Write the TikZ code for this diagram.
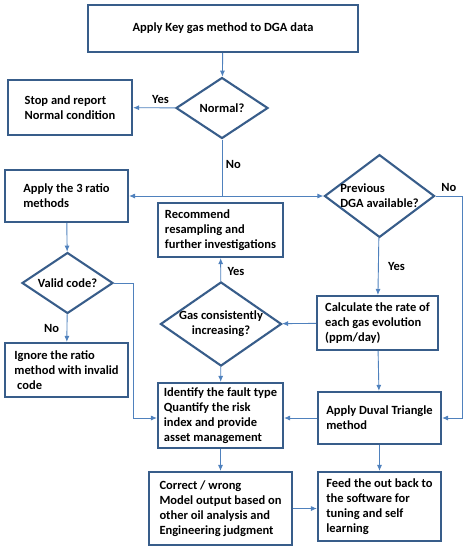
\documentclass[tikz,border=0pt]{standalone}
\usepackage{fontspec}
\setmainfont{Carlito}
\usetikzlibrary{shapes.geometric,arrows.meta,positioning}
\definecolor{boxblue}{RGB}{56,93,138}
\definecolor{arrowblue}{RGB}{79,129,189}

\begin{document}
\begin{tikzpicture}[x=1pt,y=1pt,
	stepbox/.style={rectangle,draw=boxblue,line width=2.1pt,fill=white,align=left,font=\bfseries\fontsize{12.5}{15}\selectfont,inner sep=1pt},
	decision/.style={diamond,draw=boxblue,line width=2.1pt,fill=white,align=center,font=\bfseries\fontsize{12.5}{15}\selectfont,inner sep=0pt},
	flow/.style={draw=arrowblue,line width=0.9pt,-{Latex[length=6pt,width=5pt]}},
	tag/.style={font=\bfseries\fontsize{12.5}{14}\selectfont}]
	\useasboundingbox (0,0) rectangle (465,-550);
	\node (keygas) [stepbox,align=center,minimum width=270,minimum height=47] at (223,-28.5) {Apply Key gas method to DGA data};
	\node (normal) [decision,aspect=1.5,minimum width=92,minimum height=61] at (222,-108) {Normal?};
	\node (stop) [stepbox,minimum width=124,minimum height=55] at (70,-107.5) {Stop and report\\Normal condition};
	\node (ratio) [stepbox,minimum width=123,minimum height=52] at (66.5,-196) {Apply the 3 ratio\\methods};
	\node (prevdga) [decision,aspect=1.33,align=left,minimum width=109,minimum height=82] at (379.5,-196) {Previous\\DGA available?};
	\node (resample) [stepbox,minimum width=125,minimum height=54] at (220.5,-230) {Recommend\\resampling and\\further investigations};
	\node (valid) [decision,aspect=1.5,minimum width=91,minimum height=61] at (67.5,-283) {Valid code?};
	\node (increase) [decision,aspect=1.44,minimum width=118,minimum height=82] at (221,-324) {Gas consistently\\increasing?};
	\node (rate) [stepbox,minimum width=121,minimum height=54] at (377.5,-323) {Calculate the rate of\\each gas evolution\\(ppm/day)};
	\node (ignore) [stepbox,minimum width=123,minimum height=54] at (66.5,-370) {Ignore the ratio\\method with invalid\\\ code};
	\node (fault) [stepbox,minimum width=125,minimum height=65] at (220.5,-415.5) {Identify the fault type\\Quantify the risk\\index and provide\\asset management};
	\node (duval) [stepbox,minimum width=123,minimum height=52] at (379.5,-418) {Apply Duval Triangle\\method};
	\node (model) [stepbox,minimum width=143,minimum height=73] at (220.5,-508.5) {Correct / wrong\\Model output based on\\other oil analysis and\\Engineering judgment};
	\node (feed) [stepbox,minimum width=123,minimum height=69] at (379.5,-506.5) {Feed the out back to\\the software for\\tuning and self\\learning};
	\coordinate (split) at (normal.south |- ratio.east);
	\coordinate (validturn) at (133,0);
	\coordinate (noturn) at (462,0);
	\draw[flow] (keygas) -- (normal);
	\draw[flow] (normal) -- (stop) node[tag,pos=0.35,above] {Yes};
	\draw[draw=arrowblue,line width=0.9pt] (normal) -- (split) node[tag,pos=0.45,right] {No};
	\draw[flow] (split) -- (ratio);
	\draw[flow] (split) -- (prevdga);
	\draw[flow] (prevdga.east) -- (prevdga.east -| noturn) node[tag,midway,above=1pt] {No} |- (duval.east);
	\draw[flow] (prevdga) -- (rate) node[tag,midway,right=6pt] {Yes};
	\draw[flow] (ratio) -- (valid);
	\draw[flow] (valid) -- (ignore) node[tag,midway,left=4pt] {No};
	\draw[flow] (valid.east) -- (valid.east -| validturn) |- (fault.west |- duval.west);
	\draw[flow] (rate) -- (increase);
	\draw[flow] (increase) -- (resample) node[tag,pos=0.4,right=3pt] {Yes};
	\draw[flow] (increase) -- (fault);
	\draw[flow] (rate) -- (duval);
	\draw[flow] (duval.west) -- (fault.east |- duval.west);
	\draw[flow] (fault) -- (model);
	\draw[flow] (duval) -- (feed);
	\draw[flow] (model.east) -- (feed.west |- model.east);
\end{tikzpicture}
\end{document}
